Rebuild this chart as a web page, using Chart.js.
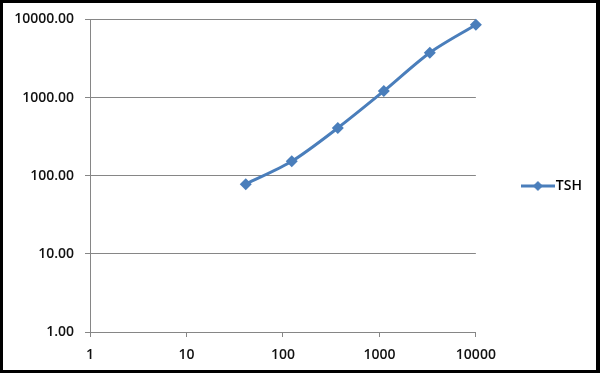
<!DOCTYPE html>
<html>
<head>
<meta charset="utf-8">
<script src="https://cdn.jsdelivr.net/npm/chart.js@4/dist/chart.umd.min.js"></script>
<style>
  html, body { margin: 0; padding: 0; background: #fff; }
  #wrap { width: 600px; height: 373px; }
</style>
</head>
<body>
<div id="wrap"><canvas id="chart" width="600" height="373"></canvas></div>
<script>
// dilution series (x) and TSH readings (y)
const xValues = [41.15, 123.5, 370.4, 1111, 3333, 10000];
const tshValues = [78, 153, 408, 1210, 3750, 8550];
const xTicks = [1, 10, 100, 1000, 10000];
const yTicks = [1, 10, 100, 1000, 10000];
const seriesName = 'TSH';

const blue = '#4A7EBB';
const gridGray = '#868686';

Chart.defaults.font.family = "'Open Sans', 'Liberation Sans', sans-serif";
Chart.defaults.font.size = 14;
Chart.defaults.font.weight = '600';
Chart.defaults.color = '#111';

// legend sample: line with a diamond in the middle
function legendMarker() {
    const c = document.createElement('canvas');
    c.width = 34;
    c.height = 12;
    const g = c.getContext('2d');
    g.strokeStyle = blue;
    g.lineWidth = 3;
    g.beginPath();
    g.moveTo(0, 6);
    g.lineTo(34, 6);
    g.stroke();
    g.fillStyle = blue;
    g.beginPath();
    g.moveTo(17, 1);
    g.lineTo(22, 6);
    g.lineTo(17, 11);
    g.lineTo(12, 6);
    g.closePath();
    g.fill();
    return c;
}

const framePlugin = {
    id: 'frame',
    afterLayout(chart) {
        // lift the legend a little, it sits level with the plot's middle
        chart.legend.top -= 10;
        chart.legend.bottom -= 10;
    },
    afterDraw(chart) {
        const ctx = chart.ctx;
        ctx.save();
        ctx.fillStyle = '#000';
        ctx.fillRect(0, 0, 600, 3);
        ctx.fillRect(0, 0, 3, 373);
        ctx.fillRect(596, 0, 4, 373);
        ctx.fillRect(0, 370, 600, 3);
        ctx.restore();
    }
};

const points = xValues.map((x, i) => ({ x: x, y: tshValues[i] }));

new Chart(document.getElementById('chart'), {
    type: 'scatter',
    data: {
        datasets: [{
            label: seriesName,
            data: points,
            showLine: true,
            clip: false,
            borderColor: blue,
            backgroundColor: blue,
            borderWidth: 3,
            tension: 0.3,
            pointStyle: 'rectRot',
            pointRadius: 6,
            pointBorderWidth: 0,
            pointHoverRadius: 6
        }]
    },
    options: {
        responsive: false,
        animation: false,
        layout: { padding: { top: 19, left: 0, right: 8, bottom: 0 } },
        plugins: {
            tooltip: { enabled: false },
            legend: {
                position: 'right',
                align: 'center',
                labels: {
                    usePointStyle: true,
                    pointStyleWidth: 22,
                    padding: 51,
                    color: '#111',
                    generateLabels: () => [{
                        text: seriesName,
                        pointStyle: legendMarker(),
                        fillStyle: blue,
                        strokeStyle: blue,
                        lineWidth: 0,
                        hidden: false,
                        datasetIndex: 0
                    }]
                }
            }
        },
        scales: {
            x: {
                type: 'logarithmic',
                min: 1,
                max: 10000,
                afterBuildTicks: s => { s.ticks = xTicks.map(v => ({ value: v })); },
                afterFit: s => { s.height = 41; },
                grid: { drawOnChartArea: false, color: gridGray, tickLength: 5 },
                border: { color: gridGray },
                ticks: { padding: 10, maxRotation: 0, callback: v => String(v) }
            },
            y: {
                type: 'logarithmic',
                min: 1,
                max: 10000,
                afterBuildTicks: s => { s.ticks = yTicks.map(v => ({ value: v })); },
                afterFit: s => { s.width = 90; },
                grid: { color: gridGray, tickLength: 5 },
                border: { color: gridGray },
                ticks: { padding: 11, callback: v => Number(v).toFixed(2) }
            }
        }
    },
    plugins: [framePlugin]
});
</script>
</body>
</html>
